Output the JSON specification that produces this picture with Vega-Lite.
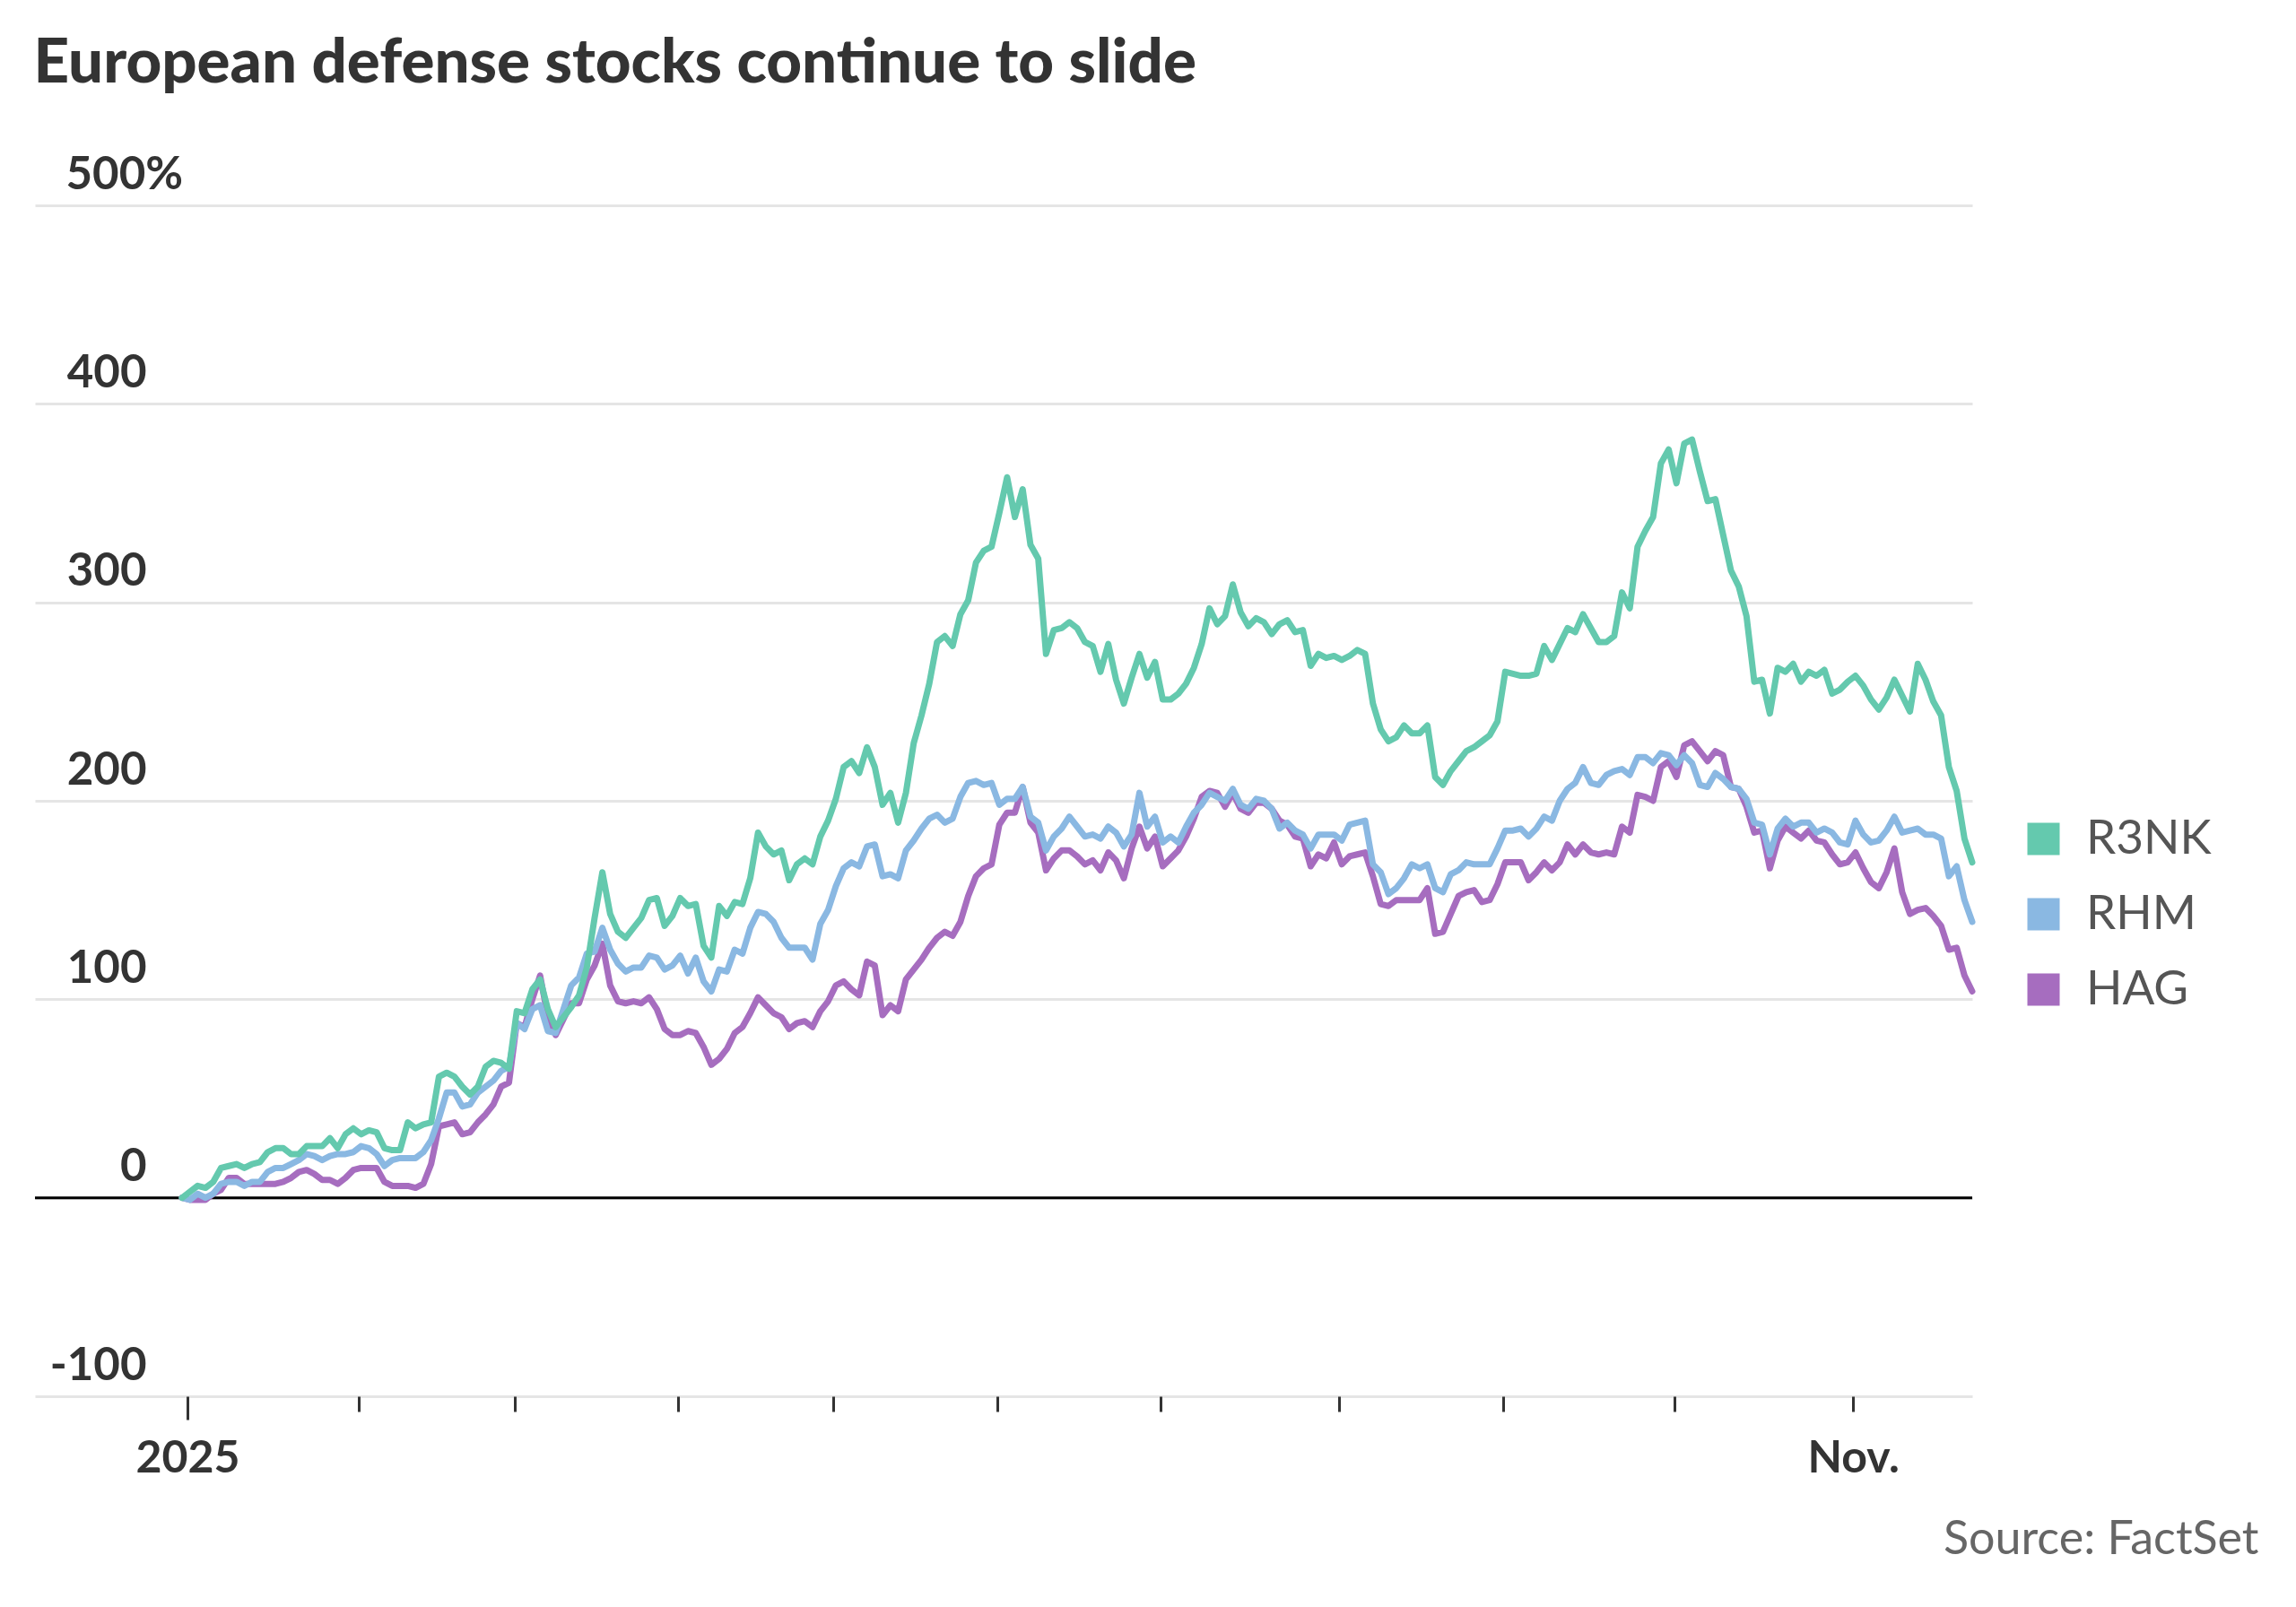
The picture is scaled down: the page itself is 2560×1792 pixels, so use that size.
{
  "$schema": "https://vega.github.io/schema/vega-lite/v6.json",
  "width": 2160,
  "height": 1328,
  "autosize": {"type": "none"},
  "padding": {"left": 39, "top": 229, "right": 361, "bottom": 235},
  "background": "white",
  "config": {"view": {"stroke": null}, "font": "Lato"},
  "title": {"text": "European defense stocks continue to slide", "anchor": "start", "font": "Lato", "fontSize": 69, "fontWeight": 900, "color": "#333333", "baseline": "alphabetic", "offset": 8},
  "data": {"values": [
{"d":-1,"R3NK":0,"RHM":0,"HAG":0},{"d":0,"R3NK":3,"RHM":-1,"HAG":-1},{"d":1,"R3NK":6,"RHM":2,"HAG":-1},{"d":2,"R3NK":5,"RHM":0,"HAG":-1},{"d":3,"R3NK":8,"RHM":2,"HAG":2},{"d":4,"R3NK":15,"RHM":7,"HAG":4},{"d":5,"R3NK":16,"RHM":8,"HAG":10},{"d":6,"R3NK":17,"RHM":8,"HAG":10},{"d":7,"R3NK":15,"RHM":6,"HAG":7},{"d":8,"R3NK":17,"RHM":8,"HAG":7},{"d":9,"R3NK":18,"RHM":8,"HAG":7},{"d":10,"R3NK":23,"RHM":13,"HAG":7},{"d":11,"R3NK":25,"RHM":15,"HAG":7},{"d":12,"R3NK":25,"RHM":15,"HAG":8},{"d":13,"R3NK":22,"RHM":17,"HAG":10},{"d":14,"R3NK":22,"RHM":19,"HAG":13},{"d":15,"R3NK":26,"RHM":22,"HAG":14},{"d":16,"R3NK":26,"RHM":21,"HAG":12},{"d":17,"R3NK":26,"RHM":19,"HAG":9},{"d":18,"R3NK":30,"RHM":21,"HAG":9},{"d":19,"R3NK":25,"RHM":22,"HAG":7},{"d":20,"R3NK":32,"RHM":22,"HAG":10},{"d":21,"R3NK":35,"RHM":23,"HAG":14},{"d":22,"R3NK":32,"RHM":26,"HAG":15},{"d":23,"R3NK":34,"RHM":25,"HAG":15},{"d":24,"R3NK":33,"RHM":22,"HAG":15},{"d":25,"R3NK":25,"RHM":16,"HAG":8},{"d":26,"R3NK":24,"RHM":19,"HAG":6},{"d":27,"R3NK":24,"RHM":20,"HAG":6},{"d":28,"R3NK":38,"RHM":20,"HAG":6},{"d":29,"R3NK":35,"RHM":20,"HAG":5},{"d":30,"R3NK":37,"RHM":23,"HAG":7},{"d":31,"R3NK":38,"RHM":29,"HAG":17},{"d":32,"R3NK":61,"RHM":40,"HAG":36},{"d":33,"R3NK":63,"RHM":53,"HAG":37},{"d":34,"R3NK":61,"RHM":53,"HAG":38},{"d":35,"R3NK":56,"RHM":46,"HAG":32},{"d":36,"R3NK":52,"RHM":47,"HAG":33},{"d":37,"R3NK":56,"RHM":53,"HAG":38},{"d":38,"R3NK":66,"RHM":56,"HAG":42},{"d":39,"R3NK":69,"RHM":59,"HAG":47},{"d":40,"R3NK":68,"RHM":64,"HAG":56},{"d":41,"R3NK":65,"RHM":66,"HAG":58},{"d":42,"R3NK":94,"RHM":88,"HAG":88},{"d":43,"R3NK":93,"RHM":85,"HAG":86},{"d":44,"R3NK":105,"RHM":95,"HAG":100},{"d":45,"R3NK":110,"RHM":97,"HAG":112},{"d":46,"R3NK":95,"RHM":84,"HAG":91},{"d":47,"R3NK":86,"RHM":83,"HAG":82},{"d":48,"R3NK":91,"RHM":95,"HAG":90},{"d":49,"R3NK":96,"RHM":107,"HAG":98},{"d":50,"R3NK":102,"RHM":111,"HAG":98},{"d":51,"R3NK":116,"RHM":123,"HAG":110},{"d":52,"R3NK":141,"RHM":124,"HAG":117},{"d":53,"R3NK":164,"RHM":136,"HAG":128},{"d":54,"R3NK":143,"RHM":125,"HAG":107},{"d":55,"R3NK":134,"RHM":118,"HAG":99},{"d":56,"R3NK":131,"RHM":114,"HAG":98},{"d":57,"R3NK":136,"RHM":116,"HAG":99},{"d":58,"R3NK":141,"RHM":116,"HAG":98},{"d":59,"R3NK":150,"RHM":122,"HAG":101},{"d":60,"R3NK":151,"RHM":121,"HAG":95},{"d":61,"R3NK":137,"RHM":115,"HAG":85},{"d":62,"R3NK":142,"RHM":117,"HAG":82},{"d":63,"R3NK":151,"RHM":122,"HAG":82},{"d":64,"R3NK":147,"RHM":113,"HAG":84},{"d":65,"R3NK":148,"RHM":121,"HAG":83},{"d":66,"R3NK":127,"RHM":109,"HAG":76},{"d":67,"R3NK":121,"RHM":104,"HAG":67},{"d":68,"R3NK":147,"RHM":115,"HAG":70},{"d":69,"R3NK":142,"RHM":114,"HAG":75},{"d":70,"R3NK":149,"RHM":125,"HAG":83},{"d":71,"R3NK":148,"RHM":123,"HAG":86},{"d":72,"R3NK":161,"RHM":136,"HAG":93},{"d":73,"R3NK":184,"RHM":144,"HAG":101},{"d":74,"R3NK":177,"RHM":143,"HAG":97},{"d":75,"R3NK":173,"RHM":139,"HAG":93},{"d":76,"R3NK":175,"RHM":131,"HAG":91},{"d":77,"R3NK":160,"RHM":126,"HAG":85},{"d":78,"R3NK":168,"RHM":126,"HAG":88},{"d":79,"R3NK":171,"RHM":126,"HAG":89},{"d":80,"R3NK":168,"RHM":120,"HAG":86},{"d":81,"R3NK":182,"RHM":138,"HAG":94},{"d":82,"R3NK":190,"RHM":145,"HAG":99},{"d":83,"R3NK":201,"RHM":157,"HAG":107},{"d":84,"R3NK":217,"RHM":166,"HAG":109},{"d":85,"R3NK":220,"RHM":169,"HAG":105},{"d":86,"R3NK":214,"RHM":167,"HAG":102},{"d":87,"R3NK":227,"RHM":177,"HAG":119},{"d":88,"R3NK":217,"RHM":178,"HAG":117},{"d":89,"R3NK":198,"RHM":162,"HAG":92},{"d":90,"R3NK":204,"RHM":163,"HAG":97},{"d":91,"R3NK":189,"RHM":161,"HAG":94},{"d":92,"R3NK":204,"RHM":175,"HAG":110},{"d":93,"R3NK":229,"RHM":180,"HAG":115},{"d":94,"R3NK":243,"RHM":186,"HAG":120},{"d":95,"R3NK":259,"RHM":191,"HAG":126},{"d":96,"R3NK":280,"RHM":193,"HAG":131},{"d":97,"R3NK":283,"RHM":189,"HAG":134},{"d":98,"R3NK":278,"RHM":191,"HAG":132},{"d":99,"R3NK":294,"RHM":202,"HAG":139},{"d":100,"R3NK":301,"RHM":209,"HAG":152},{"d":101,"R3NK":320,"RHM":210,"HAG":162},{"d":102,"R3NK":326,"RHM":208,"HAG":166},{"d":103,"R3NK":328,"RHM":209,"HAG":168},{"d":104,"R3NK":345,"RHM":198,"HAG":188},{"d":105,"R3NK":363,"RHM":201,"HAG":194},{"d":106,"R3NK":343,"RHM":201,"HAG":194},{"d":107,"R3NK":357,"RHM":207,"HAG":207},{"d":108,"R3NK":329,"RHM":192,"HAG":189},{"d":109,"R3NK":322,"RHM":189,"HAG":184},{"d":110,"R3NK":274,"RHM":175,"HAG":165},{"d":111,"R3NK":286,"RHM":182,"HAG":171},{"d":112,"R3NK":287,"RHM":186,"HAG":175},{"d":113,"R3NK":290,"RHM":192,"HAG":175},{"d":114,"R3NK":287,"RHM":187,"HAG":172},{"d":115,"R3NK":280,"RHM":182,"HAG":168},{"d":116,"R3NK":278,"RHM":183,"HAG":170},{"d":117,"R3NK":265,"RHM":181,"HAG":165},{"d":118,"R3NK":279,"RHM":187,"HAG":174},{"d":119,"R3NK":261,"RHM":184,"HAG":170},{"d":120,"R3NK":249,"RHM":177,"HAG":161},{"d":121,"R3NK":262,"RHM":183,"HAG":176},{"d":122,"R3NK":274,"RHM":204,"HAG":187},{"d":123,"R3NK":262,"RHM":187,"HAG":176},{"d":124,"R3NK":270,"RHM":192,"HAG":182},{"d":125,"R3NK":251,"RHM":179,"HAG":167},{"d":126,"R3NK":251,"RHM":182,"HAG":171},{"d":127,"R3NK":254,"RHM":179,"HAG":175},{"d":128,"R3NK":259,"RHM":187,"HAG":182},{"d":129,"R3NK":267,"RHM":194,"HAG":191},{"d":130,"R3NK":279,"RHM":198,"HAG":202},{"d":131,"R3NK":297,"RHM":204,"HAG":205},{"d":132,"R3NK":289,"RHM":202,"HAG":204},{"d":133,"R3NK":293,"RHM":200,"HAG":197},{"d":134,"R3NK":309,"RHM":206,"HAG":204},{"d":135,"R3NK":295,"RHM":198,"HAG":196},{"d":136,"R3NK":288,"RHM":196,"HAG":194},{"d":137,"R3NK":292,"RHM":201,"HAG":199},{"d":138,"R3NK":290,"RHM":200,"HAG":199},{"d":139,"R3NK":284,"RHM":196,"HAG":196},{"d":140,"R3NK":289,"RHM":186,"HAG":190},{"d":141,"R3NK":291,"RHM":189,"HAG":188},{"d":142,"R3NK":285,"RHM":185,"HAG":182},{"d":143,"R3NK":286,"RHM":183,"HAG":181},{"d":144,"R3NK":268,"RHM":176,"HAG":167},{"d":145,"R3NK":274,"RHM":183,"HAG":173},{"d":146,"R3NK":272,"RHM":183,"HAG":171},{"d":147,"R3NK":273,"RHM":183,"HAG":179},{"d":148,"R3NK":271,"RHM":180,"HAG":168},{"d":149,"R3NK":273,"RHM":188,"HAG":172},{"d":150,"R3NK":276,"RHM":189,"HAG":173},{"d":151,"R3NK":274,"RHM":190,"HAG":174},{"d":152,"R3NK":249,"RHM":168,"HAG":162},{"d":153,"R3NK":236,"RHM":164,"HAG":148},{"d":154,"R3NK":230,"RHM":153,"HAG":147},{"d":155,"R3NK":232,"RHM":156,"HAG":150},{"d":156,"R3NK":238,"RHM":161,"HAG":150},{"d":157,"R3NK":234,"RHM":168,"HAG":150},{"d":158,"R3NK":234,"RHM":166,"HAG":150},{"d":159,"R3NK":238,"RHM":168,"HAG":156},{"d":160,"R3NK":212,"RHM":156,"HAG":133},{"d":161,"R3NK":208,"RHM":154,"HAG":134},{"d":162,"R3NK":215,"RHM":163,"HAG":143},{"d":163,"R3NK":220,"RHM":165,"HAG":152},{"d":164,"R3NK":225,"RHM":169,"HAG":154},{"d":165,"R3NK":227,"RHM":168,"HAG":155},{"d":166,"R3NK":230,"RHM":168,"HAG":149},{"d":167,"R3NK":233,"RHM":168,"HAG":150},{"d":168,"R3NK":240,"RHM":176,"HAG":158},{"d":169,"R3NK":265,"RHM":185,"HAG":169},{"d":170,"R3NK":264,"RHM":185,"HAG":169},{"d":171,"R3NK":263,"RHM":186,"HAG":169},{"d":172,"R3NK":263,"RHM":182,"HAG":160},{"d":173,"R3NK":264,"RHM":186,"HAG":164},{"d":174,"R3NK":278,"RHM":192,"HAG":169},{"d":175,"R3NK":271,"RHM":190,"HAG":165},{"d":176,"R3NK":279,"RHM":200,"HAG":169},{"d":177,"R3NK":287,"RHM":206,"HAG":178},{"d":178,"R3NK":285,"RHM":209,"HAG":173},{"d":179,"R3NK":294,"RHM":217,"HAG":178},{"d":180,"R3NK":287,"RHM":209,"HAG":174},{"d":181,"R3NK":280,"RHM":208,"HAG":173},{"d":182,"R3NK":280,"RHM":213,"HAG":174},{"d":183,"R3NK":283,"RHM":215,"HAG":173},{"d":184,"R3NK":305,"RHM":216,"HAG":187},{"d":185,"R3NK":297,"RHM":213,"HAG":184},{"d":186,"R3NK":328,"RHM":222,"HAG":203},{"d":187,"R3NK":336,"RHM":222,"HAG":202},{"d":188,"R3NK":343,"RHM":219,"HAG":200},{"d":189,"R3NK":370,"RHM":224,"HAG":217},{"d":190,"R3NK":377,"RHM":223,"HAG":220},{"d":191,"R3NK":360,"RHM":218,"HAG":212},{"d":192,"R3NK":380,"RHM":223,"HAG":228},{"d":193,"R3NK":382,"RHM":219,"HAG":230},{"d":194,"R3NK":366,"RHM":208,"HAG":225},{"d":195,"R3NK":351,"RHM":207,"HAG":220},{"d":196,"R3NK":352,"RHM":214,"HAG":225},{"d":197,"R3NK":334,"RHM":211,"HAG":223},{"d":198,"R3NK":316,"RHM":207,"HAG":207},{"d":199,"R3NK":308,"RHM":206,"HAG":206},{"d":200,"R3NK":293,"RHM":201,"HAG":197},{"d":201,"R3NK":260,"RHM":189,"HAG":184},{"d":202,"R3NK":261,"RHM":188,"HAG":185},{"d":203,"R3NK":244,"RHM":173,"HAG":166},{"d":204,"R3NK":267,"RHM":186,"HAG":180},{"d":205,"R3NK":265,"RHM":191,"HAG":187},{"d":206,"R3NK":269,"RHM":187,"HAG":184},{"d":207,"R3NK":260,"RHM":189,"HAG":181},{"d":208,"R3NK":265,"RHM":189,"HAG":185},{"d":209,"R3NK":263,"RHM":184,"HAG":180},{"d":210,"R3NK":266,"RHM":186,"HAG":179},{"d":211,"R3NK":254,"RHM":184,"HAG":173},{"d":212,"R3NK":256,"RHM":179,"HAG":168},{"d":213,"R3NK":260,"RHM":178,"HAG":169},{"d":214,"R3NK":263,"RHM":190,"HAG":174},{"d":215,"R3NK":258,"RHM":183,"HAG":166},{"d":216,"R3NK":251,"RHM":179,"HAG":159},{"d":217,"R3NK":246,"RHM":180,"HAG":156},{"d":218,"R3NK":252,"RHM":185,"HAG":164},{"d":219,"R3NK":261,"RHM":192,"HAG":176},{"d":220,"R3NK":253,"RHM":184,"HAG":154},{"d":221,"R3NK":245,"RHM":185,"HAG":143},{"d":222,"R3NK":269,"RHM":186,"HAG":145},{"d":223,"R3NK":261,"RHM":183,"HAG":146},{"d":224,"R3NK":250,"RHM":183,"HAG":142},{"d":225,"R3NK":243,"RHM":181,"HAG":137},{"d":226,"R3NK":217,"RHM":162,"HAG":125},{"d":227,"R3NK":205,"RHM":167,"HAG":126},{"d":228,"R3NK":181,"RHM":150,"HAG":112},{"d":229,"R3NK":169,"RHM":139,"HAG":104}
  ]},
  "layer": [
    {
      "data": {"values": [{"zero": 0}]},
      "mark": {"type": "rule", "color": "#000000", "strokeWidth": 3},
      "encoding": {"y": {"field": "zero", "type": "quantitative"}}
    },
    {
      "transform": [{"fold": ["HAG", "RHM", "R3NK"], "as": ["s", "v"]}],
      "mark": {"type": "line", "strokeWidth": 7, "strokeJoin": "round", "strokeCap": "round"},
      "encoding": {
        "x": {
          "field": "d", "type": "quantitative",
          "scale": {"domain": [-19.9, 229], "nice": false, "zero": false},
          "axis": {
            "values": [-0.3, 21.7, 41.7, 62.7, 82.7, 103.7, 124.7, 147.7, 168.7, 190.7, 213.7],
            "labelExpr": "datum.value < 0 ? '2025' : (datum.value > 200 ? 'Nov.' : '')",
            "grid": false, "domain": false,
            "ticks": true, "tickColor": "#333333", "tickWidth": 3,
            "tickSize": {"condition": {"test": "datum.value < 0", "value": 26}, "value": 17},
            "labelFont": "Lato", "labelFontSize": 50, "labelFontWeight": "bold", "labelColor": "#333333",
            "labelBaseline": "alphabetic",
            "labelPadding": {"condition": {"test": "datum.value < 0", "value": 58}, "value": 67},
            "labelFlush": false, "labelOverlap": false,
            "title": "Source: FactSet",
            "titleFont": "Lato", "titleFontSize": 52, "titleFontWeight": "normal", "titleColor": "#666666",
            "titleAnchor": null, "titleAlign": "right", "titleBaseline": "alphabetic",
            "titleX": 2479, "titleY": 175
          }
        },
        "y": {
          "field": "v", "type": "quantitative",
          "scale": {"domain": [-100, 500], "nice": false},
          "axis": {
            "values": [-100, 0, 100, 200, 300, 400, 500],
            "title": null, "domain": false, "ticks": false,
            "grid": true, "gridColor": "#e5e5e5", "gridWidth": 3,
            "labelExpr": "datum.value == 500 ? '500%' : '' + datum.value",
            "labelFont": "Lato", "labelFontSize": 51, "labelFontWeight": "bold", "labelColor": "#333333",
            "labelAlign": {"condition": {"test": "datum.value == 500", "value": "left"}, "value": "right"},
            "labelPadding": {"condition": {"test": "datum.value == 500", "value": -34}, "value": -124},
            "labelBaseline": "alphabetic",
            "labelOffset": -19
          }
        },
        "color": {
          "field": "s", "type": "nominal",
          "scale": {"domain": ["R3NK", "RHM", "HAG"], "range": ["#64C9AE", "#8AB8E2", "#A66DBF"]},
          "legend": {
            "orient": "none", "legendX": 2213, "legendY": 680, "direction": "vertical",
            "title": null, "padding": 0,
            "symbolType": "square", "symbolSize": 1296, "symbolStrokeWidth": 0,
            "labelFont": "Lato", "labelFontSize": 53, "labelColor": "#555555", "labelOffset": 21,
            "rowPadding": 30,
            "encode": {"symbols": {"update": {"fill": {"scale": "color", "field": "value"}, "fillOpacity": {"value": 1}, "strokeWidth": {"value": 0}}}}
          }
        }
      }
    }
  ]
}
